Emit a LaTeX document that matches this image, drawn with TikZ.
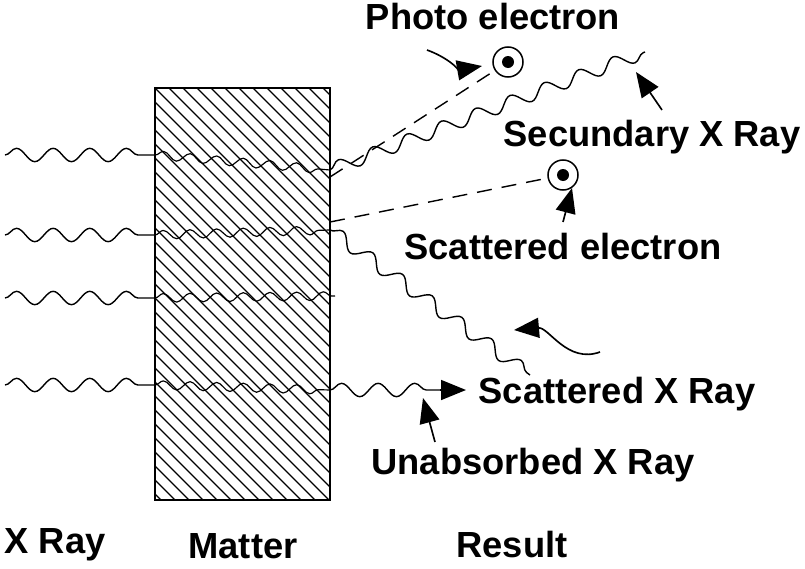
\documentclass[tikz,border=0pt]{standalone}
\usepackage{fontspec}
\setmainfont{Liberation Sans}
\usetikzlibrary{decorations.pathmorphing,arrows.meta}
\begin{document}
\begin{tikzpicture}[x=0.3mm,y=-0.3mm,
  wave/.style={decorate,decoration={snake,segment length=11mm,amplitude=2mm},line width=1.2pt},
  iwave/.style={decorate,decoration={snake,segment length=8mm,amplitude=1.3mm},line width=1pt},
  lbl/.style={font=\bfseries\fontsize{31}{34}\selectfont,inner sep=0pt},
  ptr/.style={line width=1.4pt,-{Triangle[length=7.5mm,width=6mm]}},
  elec/.style={circle,draw,line width=1.3pt,minimum size=9mm,inner sep=0pt}]
\useasboundingbox (0,0) rectangle (805,568);
% matter
\begin{scope}
\clip (155,88) rectangle (330,500);
\foreach \i in {-196,-182,...,420} \draw[line width=1.1pt] (155,88+\i) -- (330,263+\i);
\end{scope}
\node[draw,line width=1.3pt,minimum width=175*0.3mm,minimum height=412*0.3mm,inner sep=0pt] (matter) at (242.5,294) {};
% coordinates
\coordinate (a1) at (5,155); \coordinate (b1) at (155,155); \coordinate (c1) at (330,170); \coordinate (d1) at (645,52);
\coordinate (a2) at (5,235); \coordinate (b2) at (155,235); \coordinate (c2) at (330,230); \coordinate (d2) at (530,375);
\coordinate (a3) at (5,298); \coordinate (b3) at (155,298); \coordinate (c3) at (335,296);
\coordinate (a4) at (5,385); \coordinate (b4) at (155,385); \coordinate (c4) at (330,390); \coordinate (d4) at (440,390);
\coordinate (t4) at (466,390);
\draw[wave] (a1) -- (b1); \draw[iwave] (b1) -- (c1); \draw[wave] (c1) -- (d1);
\draw[wave] (a2) -- (b2); \draw[iwave] (b2) -- (c2); \draw[wave] (c2) -- (d2);
\draw[wave] (a3) -- (b3); \draw[iwave] (b3) -- (c3);
\draw[wave] (a4) -- (b4); \draw[iwave] (b4) -- (c4); \draw[wave] (c4) -- (d4);
\draw[ptr] (d4) -- (t4);
% electrons
\node[elec] (pe) at (508,62) {}; \fill (pe) circle (1.8mm);
\node[elec] (se) at (563,175) {}; \fill (se) circle (1.8mm);
\draw[line width=1.2pt,dash pattern=on 4.5mm off 3mm] (330,177) -- (pe);
\draw[line width=1.2pt,dash pattern=on 4.5mm off 3mm] (330,222) -- (se);
% labels
\node[lbl] (lpe) at (493,17) {Photo electron};
\node[lbl] (lsx) at (652,137) {Secundary X Ray};
\node[lbl] (lse) at (563,247) {Scattered electron};
\node[lbl] (lsc) at (617,394) {Scattered X Ray};
\node[lbl] (lun) at (533,465) {Unabsorbed X Ray};
\node[lbl] (lxr) at (55,545) {X Ray};
\node[lbl] (lma) at (243,546) {Matter};
\node[lbl] (lre) at (512,545) {Result};
% pointers
\coordinate (p1s) at (427,50); \coordinate (p1e) at (482,66);
\draw[ptr] (p1s) to[out=-20,in=190] (p1e);
\coordinate (p2s) at (662,110); \coordinate (p2e) at (636,72);
\draw[ptr] (p2s) -- (p2e);
\coordinate (p3s) at (563,222); \coordinate (p3e) at (572,188);
\draw[ptr] (p3s) -- (p3e);
\coordinate (p4s) at (600,352); \coordinate (p4e) at (514,330);
\draw[ptr] (p4s) to[out=200,in=5] (p4e);
\coordinate (p5s) at (435,442); \coordinate (p5e) at (423,398);
\draw[ptr] (p5s) -- (p5e);
\end{tikzpicture}
\end{document}
